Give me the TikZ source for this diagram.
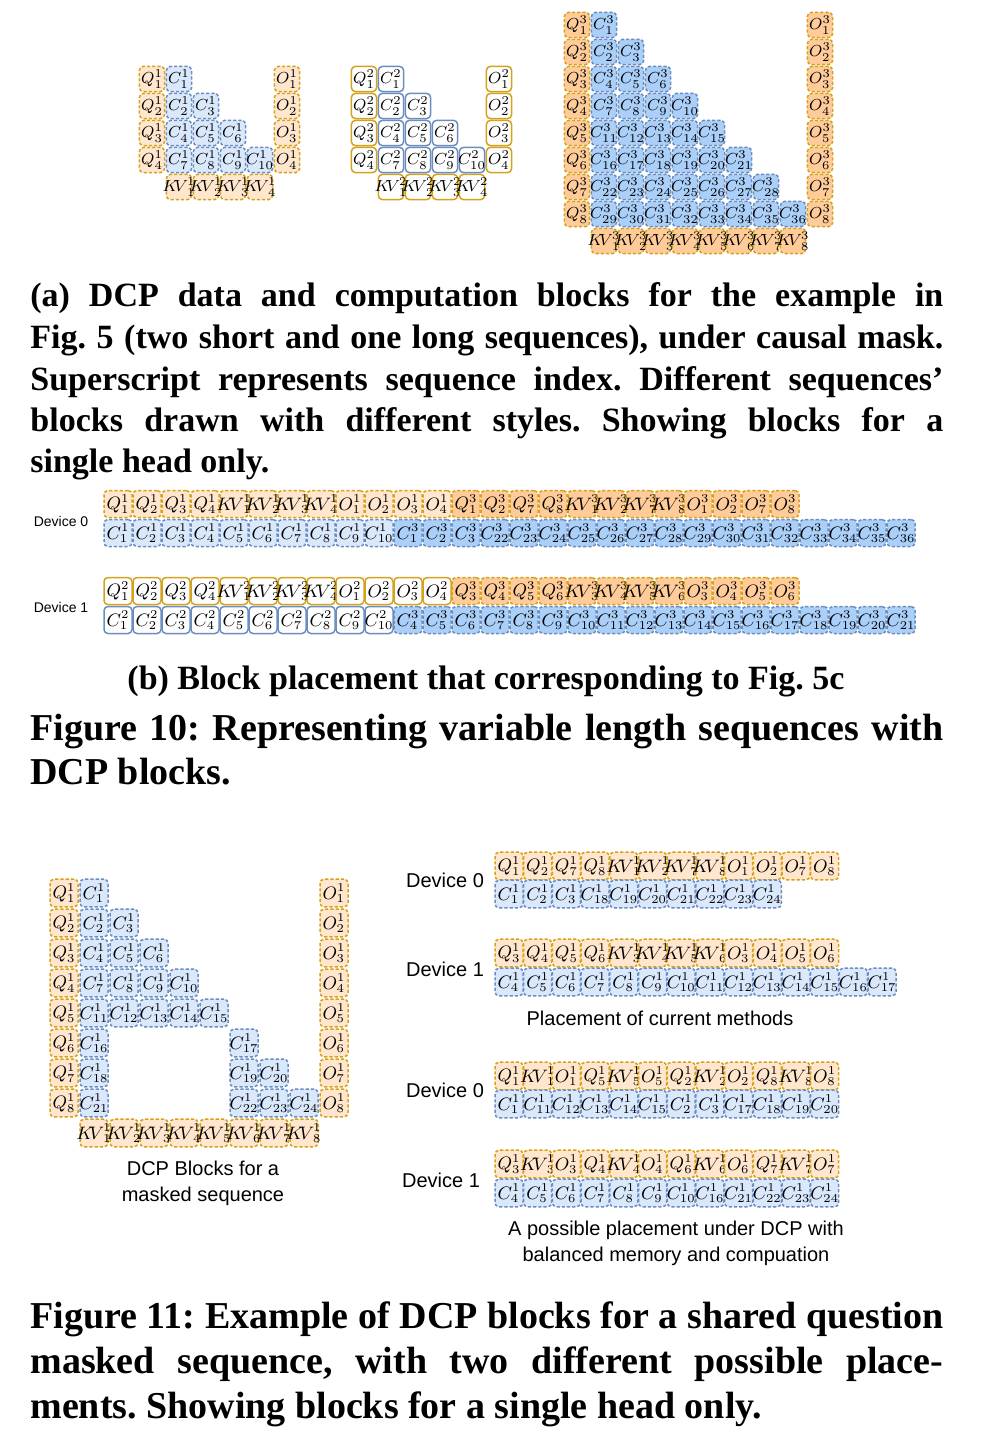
\documentclass[tikz,border=0pt]{standalone}
\usepackage{fontspec}
\setmainfont{Liberation Serif}
\setsansfont{Liberation Sans}
\frenchspacing
\newcommand\KV{K\mkern-4mu V\mkern-1mu}
\definecolor{qa}{HTML}{FFE6CC}\definecolor{qb}{HTML}{FFCC99}
\definecolor{ca}{HTML}{DAE8FC}\definecolor{cb}{HTML}{AACFF8}
\definecolor{od}{HTML}{D6A11C}\definecolor{bd}{HTML}{6C8EBF}
\tikzset{
 cell/.style={rectangle,rounded corners=2pt,line width=0.75pt,inner sep=0pt},
 dsh/.style={dash pattern=on 1.6pt off 1pt},
 q1/.style={fill=qa,draw=od,dsh}, c1/.style={fill=ca,draw=bd,dsh},
 q2/.style={fill=white,draw=od}, c2/.style={fill=white,draw=bd},
 q3/.style={fill=qb,draw=od,dsh}, c3/.style={fill=cb,draw=bd,dsh},
 sza/.style={minimum width=12.6pt,minimum height=12.6pt,font=\fontsize{8}{8}\selectfont},
 szb/.style={minimum width=14pt,minimum height=13.5pt,font=\fontsize{9}{9}\selectfont},
 szc/.style={minimum width=14pt,minimum height=13.8pt,font=\fontsize{9}{9}\selectfont},
 lab/.style={font=\sffamily\fontsize{10}{13}\selectfont,align=center},
 capa/.style={anchor=base west,inner sep=0pt,font=\bfseries\fontsize{17}{18}\selectfont},
 capf/.style={anchor=base west,inner sep=0pt,font=\bfseries\fontsize{19}{20}\selectfont}
}
\newcommand\crow[6]{\foreach \t [count=\k] in {#6} {\node[cell,#5] (#1\k) at ({#2+(\k-1)*#4},#3) {\makebox[0pt]{$\t$}};}}
\newcommand\tri[9]{%
 \foreach \r in {1,...,#5} {
  \node[cell,#6,#8] (#9Q\r) at (#2,{#3+(\r-1)*#4}) {\makebox[0pt]{$Q^{#1}_{\r}$}};
  \node[cell,#6,#8] (#9O\r) at ({#2+(#5+1)*#4},{#3+(\r-1)*#4}) {\makebox[0pt]{$O^{#1}_{\r}$}};
  \node[cell,#6,#8] (#9K\r) at ({#2+\r*#4},{#3+#5*#4}) {\makebox[0pt]{$\KV^{#1}_{\r}$}};
  \foreach \j in {1,...,\r} {
   \pgfmathtruncatemacro\n{\r*(\r-1)/2+\j}
   \node[cell,#7,#8] (#9C\n) at ({#2+\j*#4},{#3+(\r-1)*#4}) {\makebox[0pt]{$C^{#1}_{\n}$}};
  }}}
\begin{document}
\begin{tikzpicture}[x=0.5pt,y=-0.5pt]
\useasboundingbox (0,0) rectangle (983,1436);
% (a)
\tri{1}{152}{79}{27}{4}{q1}{c1}{sza}{ma}
\tri{2}{364}{79}{27}{4}{q2}{c2}{sza}{mb}
\tri{3}{577}{25}{27}{8}{q3}{c3}{sza}{mc}
\node[capa] (ca1) at (30,306) {\makebox[456.5pt][s]{(a) DCP data and computation blocks for the example in}};
\node[capa] (ca2) at (30,348) {\makebox[456.5pt][s]{Fig. 5 (two short and one long sequences), under causal mask.}};
\node[capa] (ca3) at (30,390) {\makebox[456.5pt][s]{Superscript represents sequence index. Different sequences’}};
\node[capa] (ca4) at (30,431) {\makebox[456.5pt][s]{blocks drawn with different styles. Showing blocks for a}};
\node[capa] (ca5) at (30,472) {single head only.};
% (b)
\node[font=\sffamily\fontsize{7}{8}\selectfont] (bd0) at (61,521) {Device 0};
\node[font=\sffamily\fontsize{7}{8}\selectfont] (bd1) at (61,607) {Device 1};
\crow{ba}{118}{504}{29}{q1,szb}{Q^1_1,Q^1_2,Q^1_3,Q^1_4,\KV^1_1,\KV^1_2,\KV^1_3,\KV^1_4,O^1_1,O^1_2,O^1_3,O^1_4}
\crow{bb}{466}{504}{29}{q3,szb}{Q^3_1,Q^3_2,Q^3_7,Q^3_8,\KV^3_1,\KV^3_2,\KV^3_7,\KV^3_8,O^3_1,O^3_2,O^3_7,O^3_8}
\crow{bc}{118}{533}{29}{c1,szb}{C^1_1,C^1_2,C^1_3,C^1_4,C^1_5,C^1_6,C^1_7,C^1_8,C^1_9,C^1_{10}}
\crow{bd}{408}{533}{29}{c3,szb}{C^3_1,C^3_2,C^3_3,C^3_{22},C^3_{23},C^3_{24},C^3_{25},C^3_{26},C^3_{27},C^3_{28},C^3_{29},C^3_{30},C^3_{31},C^3_{32},C^3_{33},C^3_{34},C^3_{35},C^3_{36}}
\crow{be}{118}{591}{29}{q2,szb}{Q^2_1,Q^2_2,Q^2_3,Q^2_4,\KV^2_1,\KV^2_2,\KV^2_3,\KV^2_4,O^2_1,O^2_2,O^2_3,O^2_4}
\crow{bf}{466}{591}{29}{q3,szb}{Q^3_3,Q^3_4,Q^3_5,Q^3_6,\KV^3_3,\KV^3_4,\KV^3_5,\KV^3_6,O^3_3,O^3_4,O^3_5,O^3_6}
\crow{bg}{118}{620}{29}{c2,szb}{C^2_1,C^2_2,C^2_3,C^2_4,C^2_5,C^2_6,C^2_7,C^2_8,C^2_9,C^2_{10}}
\crow{bh}{408}{620}{29}{c3,szb}{C^3_4,C^3_5,C^3_6,C^3_7,C^3_8,C^3_9,C^3_{10},C^3_{11},C^3_{12},C^3_{13},C^3_{14},C^3_{15},C^3_{16},C^3_{17},C^3_{18},C^3_{19},C^3_{20},C^3_{21}}
\node[anchor=base,inner sep=0pt,font=\bfseries\fontsize{17}{18}\selectfont] (cb) at (486,689) {(b) Block placement that corresponding to Fig. 5c};
\node[capf] (f10a) at (30,740) {\makebox[456.5pt][s]{Figure 10: Representing variable length sequences with}};
\node[capf] (f10b) at (30,784) {DCP blocks.};
% Fig 11 left
\foreach \r in {1,...,8} {
 \node[cell,q1,szc] (lQ\r) at (64,{893+30*(\r-1)}) {\makebox[0pt]{$Q^1_{\r}$}};
 \node[cell,q1,szc] (lO\r) at (334,{893+30*(\r-1)}) {\makebox[0pt]{$O^1_{\r}$}};
 \node[cell,q1,szc] (lK\r) at ({94+30*(\r-1)},1133) {\makebox[0pt]{$\KV^1_{\r}$}};
}
\foreach \r in {1,...,5} \foreach \j in {1,...,\r} {
 \pgfmathtruncatemacro\n{\r*(\r-1)/2+\j}
 \node[cell,c1,szc] (lC\n) at ({94+30*(\j-1)},{893+30*(\r-1)}) {\makebox[0pt]{$C^1_{\n}$}};
}
\foreach \r/\j/\n in {6/1/16,6/6/17,7/1/18,7/6/19,7/7/20,8/1/21,8/6/22,8/7/23,8/8/24}
 \node[cell,c1,szc] (lC\n) at ({94+30*(\j-1)},{893+30*(\r-1)}) {\makebox[0pt]{$C^1_{\n}$}};
\node[lab] (lt) at (203,1183) {DCP Blocks for a\\masked sequence};
% Fig 11 right
\node[lab] (r0) at (445,880) {Device 0};
\node[lab] (r1) at (445,969) {Device 1};
\node[lab] (r2) at (445,1090) {Device 0};
\node[lab] (r3) at (441,1180) {Device 1};
\crow{ra}{509}{866}{28.7}{q1,szc}{Q^1_1,Q^1_2,Q^1_7,Q^1_8,\KV^1_1,\KV^1_2,\KV^1_7,\KV^1_8,O^1_1,O^1_2,O^1_7,O^1_8}
\crow{rb}{509}{894}{28.7}{c1,szc}{C^1_1,C^1_2,C^1_3,C^1_{18},C^1_{19},C^1_{20},C^1_{21},C^1_{22},C^1_{23},C^1_{24}}
\crow{rc}{509}{953}{28.7}{q1,szc}{Q^1_3,Q^1_4,Q^1_5,Q^1_6,\KV^1_3,\KV^1_4,\KV^1_5,\KV^1_6,O^1_3,O^1_4,O^1_5,O^1_6}
\crow{rd}{509}{982}{28.7}{c1,szc}{C^1_4,C^1_5,C^1_6,C^1_7,C^1_8,C^1_9,C^1_{10},C^1_{11},C^1_{12},C^1_{13},C^1_{14},C^1_{15},C^1_{16},C^1_{17}}
\node[lab] (rt1) at (660,1018) {Placement of current methods};
\crow{re}{509}{1076}{28.7}{q1,szc}{Q^1_1,\KV^1_1,O^1_1,Q^1_5,\KV^1_5,O^1_5,Q^1_2,\KV^1_2,O^1_2,Q^1_8,\KV^1_8,O^1_8}
\crow{rf}{509}{1104}{28.7}{c1,szc}{C^1_1,C^1_{11},C^1_{12},C^1_{13},C^1_{14},C^1_{15},C^1_2,C^1_3,C^1_{17},C^1_{18},C^1_{19},C^1_{20}}
\crow{rg}{509}{1164}{28.7}{q1,szc}{Q^1_3,\KV^1_3,O^1_3,Q^1_4,\KV^1_4,O^1_4,Q^1_6,\KV^1_6,O^1_6,Q^1_7,\KV^1_7,O^1_7}
\crow{rh}{509}{1193}{28.7}{c1,szc}{C^1_4,C^1_5,C^1_6,C^1_7,C^1_8,C^1_9,C^1_{10},C^1_{16},C^1_{21},C^1_{22},C^1_{23},C^1_{24}}
\node[lab] (rt2) at (676,1243) {A possible placement under DCP with\\balanced memory and compuation};
\node[capf] (f11a) at (30,1328) {\makebox[456.5pt][s]{Figure 11: Example of DCP blocks for a shared question}};
\node[capf] (f11b) at (30,1373) {\makebox[456.5pt][s]{masked sequence, with two different possible place-}};
\node[capf] (f11c) at (30,1418) {ments. Showing blocks for a single head only.};
\end{tikzpicture}
\end{document}
